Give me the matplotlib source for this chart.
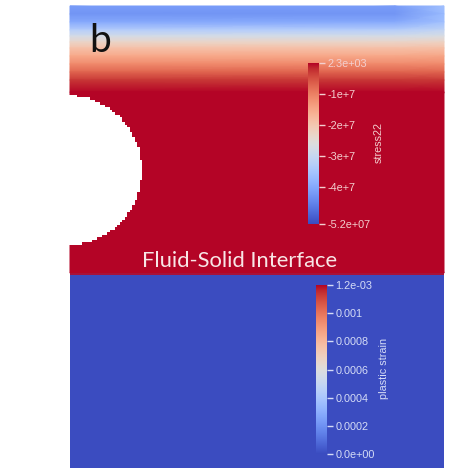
import numpy as np
import matplotlib
matplotlib.use('Agg')
import matplotlib.pyplot as plt
from matplotlib.colors import ListedColormap

# stress22 field (rows top to bottom, px height in the panel)
row_y = [6, 14, 22, 30, 36, 42, 48, 56, 64, 72, 80, 92, 273]
stress_left = [-4.2e7, -4.3e7, -4.0e7, -3.3e7, -2.8e7, -2.3e7, -1.9e7, -1.5e7,
               -1.1e7, -0.7e7, -0.3e7, 0, 0]
stress_right = [-3.6e7, -3.7e7, -3.6e7, -3.1e7, -2.7e7, -2.25e7, -1.85e7, -1.45e7,
                -1.1e7, -0.7e7, -0.3e7, 0, 0]
col_x = [70, 395, 444]

stress_ticks = [2.3e3, -1e7, -2e7, -3e7, -4e7, -5.2e7]
stress_labels = ['2.3e+03', '-1e+7', '-2e+7', '-3e+7', '-4e+7', '-5.2e+07']
strain_ticks = [1.2e-3, 0.001, 0.0008, 0.0006, 0.0004, 0.0002, 0.0]
strain_labels = ['1.2e-03', '0.001', '0.0008', '0.0006', '0.0004', '0.0002', '0.0e+00']

cmap = plt.cm.coolwarm
blue = cmap(0.0)
txt_top = '#f3cfcf'
txt_bot = '#d5dcf6'

fig = plt.figure(figsize=(4.74, 4.74), dpi=100)
ax = fig.add_axes([0, 0, 1, 1])
ax.set_xlim(0, 474)
ax.set_ylim(474, 0)
ax.axis('off')

field = np.column_stack([stress_left, stress_left, stress_right])
ax.pcolormesh(col_x, row_y, field, cmap=cmap, vmin=-5.2e7, vmax=2.3e3, shading='gouraud')
ax.fill_between([70, 444], 273, 468, color=blue, lw=0)
ax.fill_between([70, 444], 272.5, 275, color='#a8123a', lw=0)

# hole in the solid, staircase edge from the mesh
cell = 2.5
gx = np.arange(67.5, 145, cell)
gy = np.arange(92, 248, cell)
X, Y = np.meshgrid(gx[:-1] + cell / 2, gy[:-1] + cell / 2)
hole = ((X - 67) ** 2 + (Y - 170) ** 2) < 75 ** 2
ax.pcolormesh(gx, gy, np.ma.masked_where(~hole, hole.astype(float)),
              cmap=ListedColormap(['white']), shading='flat', lw=0)

ax.text(89, 52, 'b', fontsize=28, family='Lato', color='#111111', ha='left', va='baseline')
ax.text(240, 261, 'Fluid-Solid Interface', fontsize=15.8, family='Lato', color='#f8e6e6',
        ha='center', va='center')


def add_bar(x0, x1, y0, y1, ticks, labels, title, title_x, txt, ticklen, pad):
    cax = fig.add_axes([x0 / 474, 1 - y1 / 474, (x1 - x0) / 474, (y1 - y0) / 474])
    lo, hi = min(ticks), max(ticks)
    cax.imshow(np.linspace(1, 0, 256).reshape(-1, 1), cmap=cmap, aspect='auto',
               extent=[0, 1, lo, hi])
    cax.set_xticks([])
    cax.yaxis.tick_right()
    cax.set_yticks(ticks)
    cax.set_yticklabels(labels, family='Liberation Sans', fontsize=7.8, color=txt)
    cax.tick_params(axis='y', length=ticklen, width=1, color=txt, pad=pad)
    for s in cax.spines.values():
        s.set_visible(False)
    ax.text(title_x, (y0 + y1) / 2 - 1, title, rotation=90, family='Liberation Sans',
            fontsize=7.8, color=txt, ha='center', va='center')


add_bar(308, 319, 63, 224, stress_ticks, stress_labels, 'stress22', 379, txt_top, 4, 2)
add_bar(316, 327, 285, 454, strain_ticks, strain_labels, 'plastic strain', 384, txt_bot, 4.5, 1.5)

fig.savefig('out.png', dpi=100)
